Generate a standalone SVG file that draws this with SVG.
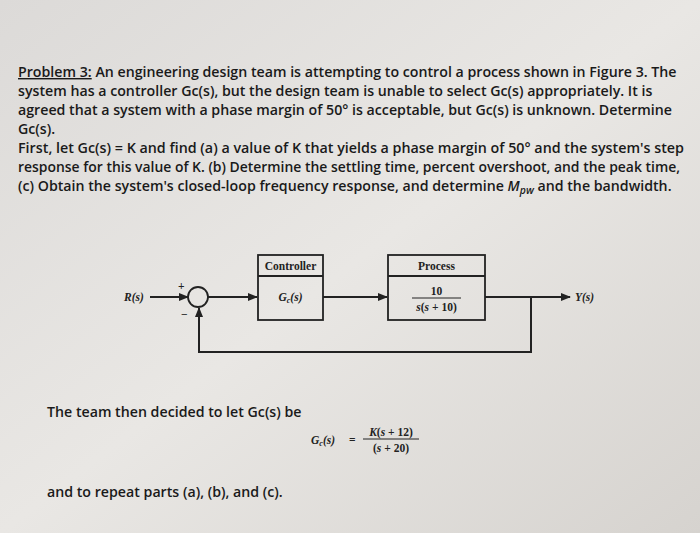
<svg xmlns="http://www.w3.org/2000/svg" width="700" height="533" viewBox="0 0 700 533">
<defs>
<linearGradient id="bg" x1="0" y1="0" x2="1" y2="1"><stop offset="0" stop-color="#dcdad8"/><stop offset="0.5" stop-color="#e9e7e4"/><stop offset="1" stop-color="#d6d3cf"/></linearGradient>
<marker id="ar" markerWidth="10" markerHeight="8" refX="9" refY="4" orient="auto" markerUnits="userSpaceOnUse"><path d="M0,0 L10,4 L0,8 Z" fill="#222"/></marker>
<style>
.t{font-family:"Open Sans","Liberation Sans",sans-serif;font-size:14.2px;fill:#1a1a1a;font-weight:600}
.s{font-family:"Liberation Serif",serif;font-size:11.5px;fill:#222;font-weight:bold}
.i{font-style:italic}
.ln{stroke:#222;stroke-width:2;fill:none}
.bx{stroke:#222;stroke-width:1.8;fill:none}
</style>
</defs>
<rect width="700" height="533" fill="url(#bg)"/>
<text class="t" x="18" y="77"><tspan text-decoration="underline">Problem 3:</tspan> An engineering design team is attempting to control a process shown in Figure 3. The</text>
<text class="t" x="18" y="96">system has a controller Gc(s), but the design team is unable to select Gc(s) appropriately. It is</text>
<text class="t" x="18" y="115">agreed that a system with a phase margin of 50° is acceptable, but Gc(s) is unknown. Determine</text>
<text class="t" x="18" y="134">Gc(s).</text>
<text class="t" x="18" y="153" textLength="666" lengthAdjust="spacingAndGlyphs">First, let Gc(s) = K and find (a) a value of K that yields a phase margin of 50° and the system's step</text>
<text class="t" x="18" y="172" textLength="662" lengthAdjust="spacingAndGlyphs">response for this value of K. (b) Determine the settling time, percent overshoot, and the peak time,</text>
<text class="t" x="18" y="191">(c) Obtain the system's closed-loop frequency response, and determine <tspan class="i">M</tspan><tspan class="i" font-size="10.5" dy="3">pw</tspan><tspan dy="-3"> and the bandwidth.</tspan></text>
<g id="connectors">
<line class="ln" x1="150" y1="297" x2="188" y2="297" marker-end="url(#ar)"/>
<line class="ln" x1="208" y1="297" x2="257" y2="297" marker-end="url(#ar)"/>
<line class="ln" x1="323" y1="297" x2="387" y2="297" marker-end="url(#ar)"/>
<line class="ln" x1="485" y1="297" x2="570" y2="297" marker-end="url(#ar)"/>
<polyline class="ln" points="531,297 531,352 199,352 199,308" marker-end="url(#ar)"/>
</g>
<g id="sum"><circle cx="198" cy="297" r="10" fill="none" stroke="#222" stroke-width="1.8"/>
<text class="s" x="178" y="290">+</text><text class="s" x="181" y="318">−</text></g>
<g id="R"><text class="s i" x="124" y="301" fill="#555">R(s)</text></g>
<g id="controller"><rect class="bx" x="258" y="255" width="65" height="65"/><line class="bx" x1="258" y1="276" x2="323" y2="276"/>
<text class="s" x="290.5" y="270" text-anchor="middle">Controller</text><text class="s i" x="290.5" y="301" text-anchor="middle">G<tspan font-size="8" dy="2">c</tspan><tspan dy="-2">(s)</tspan></text></g>
<g id="process"><rect class="bx" x="388" y="255" width="97" height="65"/><line class="bx" x1="388" y1="276" x2="485" y2="276"/>
<text class="s" x="436.5" y="295" text-anchor="middle">10</text>
<text class="s" x="436.5" y="270" text-anchor="middle">Process</text>
<line x1="412" y1="298" x2="461" y2="298" stroke="#222" stroke-width="1"/><text class="s" x="436.5" y="311" text-anchor="middle"><tspan class="i">s</tspan>(<tspan class="i">s</tspan> + 10)</text></g>
<g id="Y"><text class="s i" x="575" y="301" fill="#555">Y(s)</text></g>
<text class="t" x="47" y="417">The team then decided to let Gc(s) be</text>
<g id="gc"><text class="s i" x="311" y="444">G<tspan font-size="8" dy="2">c</tspan><tspan dy="-2">(s)</tspan></text><text class="s" x="349" y="444">=</text>
<text class="s" x="391" y="436" text-anchor="middle"><tspan class="i">K</tspan>(<tspan class="i">s</tspan> + 12)</text>
<line x1="363" y1="439" x2="419" y2="439" stroke="#222" stroke-width="1"/>
<text class="s" x="391" y="452" text-anchor="middle">(<tspan class="i">s</tspan> + 20)</text></g>
<text class="t" x="47" y="497">and to repeat parts (a), (b), and (c).</text>
</svg>
